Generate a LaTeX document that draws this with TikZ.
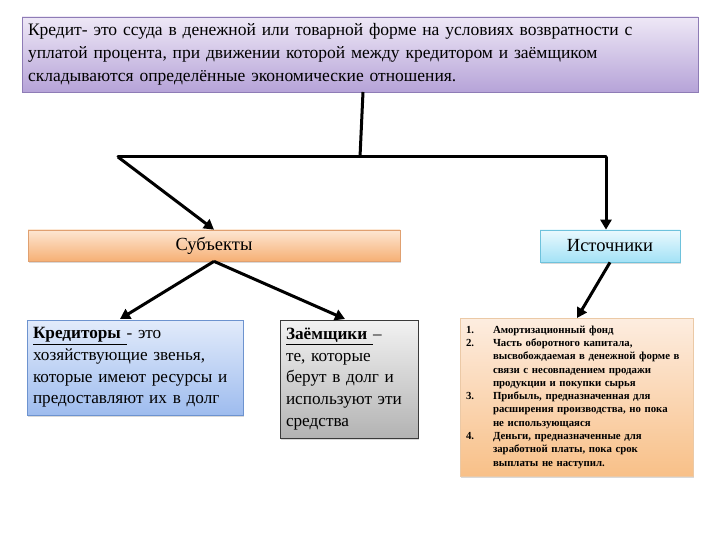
\documentclass[tikz,border=0pt]{standalone}
\usepackage{fontspec}
\setmainfont{Liberation Serif}
\usetikzlibrary{arrows.meta,shadows}
\definecolor{purpTop}{HTML}{EEE8F6}
\definecolor{purpBot}{HTML}{B6A3D8}
\definecolor{purpLine}{HTML}{8E7CB6}
\definecolor{orTop}{HTML}{FDE6D2}
\definecolor{orBot}{HTML}{F6B075}
\definecolor{orLine}{HTML}{E0A070}
\definecolor{cyTop}{HTML}{EAF9FE}
\definecolor{cyBot}{HTML}{A3E2F6}
\definecolor{cyLine}{HTML}{6EC2DC}
\definecolor{blTop}{HTML}{E2EBFB}
\definecolor{blBot}{HTML}{9EBCEE}
\definecolor{blLine}{HTML}{6D93CF}
\definecolor{grTop}{HTML}{F2F2F2}
\definecolor{grBot}{HTML}{B3B3B3}
\definecolor{grLine}{HTML}{3A3A3A}
\definecolor{pcTop}{HTML}{FDEDE0}
\definecolor{pcBot}{HTML}{F8C088}
\definecolor{pcLine}{HTML}{EBC9A6}
\begin{document}
\begin{tikzpicture}[x=1pt,y=-1pt,
  box/.style={draw, line width=0.7pt, inner ysep=0pt, align=left,
    drop shadow={shadow xshift=1.2pt, shadow yshift=-1.5pt, opacity=0.3}},
  bigtext/.style={font=\fontsize{17.2}{21.6}\selectfont},
  titletext/.style={font=\fontsize{18.5}{22}\selectfont},
  conn/.style={line width=3pt, -{Triangle[length=10pt,width=11pt]}},
  wire/.style={line width=3pt}
]
\useasboundingbox (0,0) rectangle (720,540);

\node[box, font=\fontsize{17.5}{23}\selectfont, top color=purpTop, bottom color=purpBot, draw=purpLine,
  minimum width=676pt, minimum height=75pt, text width=664pt, inner xsep=6pt]
  (def) at (360,54.5)
  {Кредит- это ссуда в денежной или товарной форме на условиях возвратности с\\
   уплатой процента, при движении которой между кредитором и заёмщиком\\
   складываются определённые экономические отношения.};

\node[box, titletext, top color=orTop, bottom color=orBot, draw=orLine,
  minimum width=372pt, minimum height=31pt, align=center]
  (subj) at (214,245.5) {Субъекты};

\node[box, titletext, top color=cyTop, bottom color=cyBot, draw=cyLine,
  minimum width=140pt, minimum height=32pt, align=center]
  (src) at (610,246) {Источники};

\node[box, bigtext, top color=blTop, bottom color=blBot, draw=blLine,
  minimum width=214pt, minimum height=95pt, text width=204pt, inner xsep=6pt]
  (cred) at (135,367.5)
  {\textbf{\underline{Кредиторы }}- это\\
   хозяйствующие звенья,\\
   которые имеют ресурсы и\\
   предоставляют их в долг};

\node[box, bigtext, top color=grTop, bottom color=grBot, draw=grLine,
  minimum width=134pt, minimum height=118pt, text width=126pt, inner xsep=6pt]
  (borr) at (349,379)
  {\textbf{\underline{Заёмщики }}–\\
   те, которые\\
   берут в долг и\\
   используют эти\\
   средства};

\node[box, top color=pcTop, bottom color=pcBot, draw=pcLine,
  minimum width=231pt, minimum height=158pt, text width=221pt, inner xsep=6pt,
  font=\fontsize{10.8}{13.3}\selectfont\bfseries]
  (list) at (576.5,397)
  {\begin{tabular}{@{}p{27pt}@{}l@{}}
   1. & Амортизационный фонд\\
   2. & Часть оборотного капитала,\\
      & высвобождаемая в денежной форме в\\
      & связи с несовпадением продажи\\
      & продукции и покупки сырья\\
   3. & Прибыль, предназначенная для\\
      & расширения производства, но пока\\
      & не использующаяся\\
   4. & Деньги, предназначенные для\\
      & заработной платы, пока срок\\
      & выплаты не наступил.
   \end{tabular}};

\coordinate (top) at (363,92);
\coordinate (jn) at (360,157);
\coordinate (jl) at (118,157);
\coordinate (jr) at (606,157);

\draw[wire] (top) -- (jn);
\draw[wire, line cap=round] (jl) -- (jr);
\draw[conn] (jl) -- (subj.north);
\draw[conn] (jr) -- (jr |- src.north);
\draw[conn] (subj.south) -- (120,319);
\draw[conn] (subj.south) -- (345,319);
\draw[conn] (src.south) -- (577,318);
\end{tikzpicture}
\end{document}
